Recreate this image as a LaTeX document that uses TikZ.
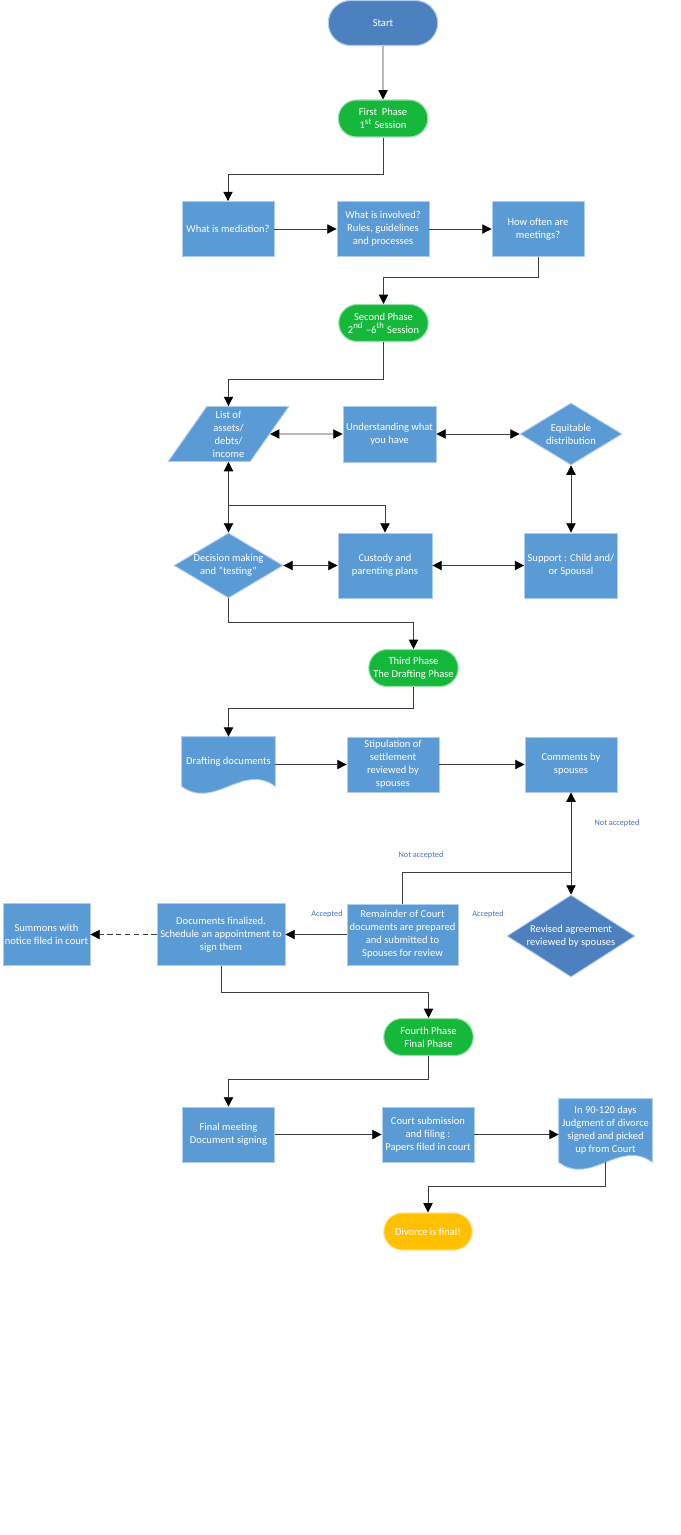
\documentclass[tikz,border=0pt]{standalone}
\usepackage{fontspec}
\setmainfont{Carlito}
\usetikzlibrary{arrows.meta,shapes.geometric,shapes.misc,calc,backgrounds}

\definecolor{boxblue}{RGB}{91,155,213}
\definecolor{boxedge}{RGB}{175,205,238}
\definecolor{termblue}{RGB}{76,128,190}
\definecolor{phasegreen}{RGB}{22,184,60}
\definecolor{finalgold}{RGB}{255,192,0}
\definecolor{wire}{RGB}{60,60,60}
\definecolor{notecol}{RGB}{68,114,196}

\begin{document}
\begin{tikzpicture}[x=0.02cm,y=-0.02cm,>={Triangle[length=5.3pt,width=5.3pt,color=black]},
  txt/.style={font=\fontsize{6}{7.4}\selectfont,text=white,align=center,inner sep=1pt},
  stepbox/.style={txt,rectangle,fill=boxblue,draw=boxedge,line width=0.5pt,minimum width=1.84cm,minimum height=1.1cm},
  phase/.style={txt,rounded rectangle,fill=phasegreen,draw=phasegreen!45!white,line width=0.6pt,minimum width=1.86cm,minimum height=0.74cm},
  query/.style={txt,diamond,fill=boxblue,draw=boxedge,line width=0.5pt,inner sep=0pt},
  docbox/.style={txt,rectangle,minimum width=1.86cm},
  link/.style={draw=wire,line width=0.5pt,->},
  both/.style={draw=wire,line width=0.5pt,<->},
  note/.style={font=\fontsize{4.7}{5.5}\selectfont,text=notecol,inner sep=0pt}]

  \useasboundingbox (0,0) rectangle (680,1535);

  % first phase
  \node[txt,rounded rectangle,fill=termblue,draw=boxedge,line width=0.6pt,minimum width=2.26cm,minimum height=0.9cm] (start) at (383,23) {Start};
  \node[phase] (phase1) at (383,118.5) {First~ Phase\\1\textsuperscript{st} Session};
  \node[stepbox] (whatis) at (228,229) {What is mediation?};
  \node[stepbox] (involved) at (383,229) {What is involved?\\Rules, guidelines\\and processes};
  \node[stepbox] (often) at (538,229) {How often are\\meetings?};

  % second phase
  \node[phase] (phase2) at (383.5,323) {Second Phase\\2\textsuperscript{nd} --6\textsuperscript{th} Session};
  \node[stepbox,trapezium,trapezium left angle=58,trapezium right angle=122,trapezium stretches=true,
        minimum width=2.42cm,minimum height=1.1cm] (assets) at (228.5,434) {List of\\assets/\\debts/\\income};
  \node[stepbox,minimum width=1.86cm,minimum height=1.12cm] (grasp) at (389.5,434) {Understanding what\\you have};
  \node[query,aspect=1.65,minimum width=2.04cm,minimum height=1.24cm] (equit) at (571,434) {Equitable\\distribution};
  \node[query,aspect=1.68,minimum width=2.18cm,minimum height=1.3cm] (decide) at (228.5,565.5) {Decision making\\and "testing"};
  \node[stepbox,minimum width=1.88cm,minimum height=1.3cm] (custody) at (385,565.5) {Custody and\\parenting plans};
  \node[stepbox,minimum width=1.86cm,minimum height=1.3cm] (support) at (571,565.5) {Support : Child and/\\or Spousal};
  \coordinate (fork) at (228.5,505);

  % third phase
  \node[phase] (phase3) at (413.5,668) {Third Phase\\The Drafting Phase};
  \node[docbox,minimum height=0.98cm] (drafting) at (228.5,761.5) {Drafting documents};
  \node[stepbox] (stipulation) at (393,764.5) {Stipulation of\\settlement\\reviewed by\\spouses};
  \node[stepbox] (comments) at (571,764.5) {Comments by\\spouses};
  \node[query,fill=termblue,aspect=1.56,minimum width=2.56cm,minimum height=1.64cm] (revised) at (571,936) {Revised agreement\\reviewed by spouses};
  \node[stepbox,minimum width=2.22cm,minimum height=1.22cm] (remainder) at (402.5,934.5) {Remainder of Court\\documents are prepared\\and submitted to\\Spouses for review};
  \node[stepbox,minimum width=2.56cm,minimum height=1.24cm] (finalized) at (221,934.5) {Documents finalized.\\Schedule an appointment to\\sign them};
  \node[stepbox,minimum width=1.74cm,minimum height=1.24cm] (summons) at (46.5,934.5) {Summons with\\notice filed in court};
  \coordinate (merge) at (571,872);

  % fourth phase
  \node[phase] (phase4) at (428.5,1037) {Fourth Phase\\Final Phase};
  \node[stepbox] (meeting) at (228.5,1134.5) {Final meeting\\Document signing};
  \node[stepbox] (court) at (428,1134.5) {Court submission\\and filing :\\Papers filed in court};
  \node[docbox,minimum height=1.26cm] (judgment) at (605.5,1130.5) {In 90-120 days\\Judgment of divorce\\signed and picked\\up from Court};
  \node[txt,rounded rectangle,fill=finalgold,draw=finalgold!45!white,line width=0.6pt,minimum width=1.84cm,minimum height=0.74cm] (final) at (428,1231.5) {Divorce is final!};

  \begin{pgfonlayer}{background}
    \fill[white] (0,0) rectangle (680,1535);
    \foreach \d in {drafting,judgment} {
      \filldraw[fill=boxblue,draw=boxedge,line width=0.5pt] (\d.north west) -- (\d.north east) -- (\d.south east)
        .. controls ($(\d.south west)!.65!(\d.south east)+(0,-24)$) and ($(\d.south west)!.35!(\d.south east)+(0,24)$) .. (\d.south west) -- cycle;
    }
  \end{pgfonlayer}

  % connectors
  \draw[link] (start) -- (phase1);
  \draw[link] (phase1.south) -- ++(0,37) -| (whatis);
  \draw[link] (whatis) -- (involved);
  \draw[link] (involved) -- (often);
  \draw[link] (often.south) -- ++(0,21) -| (phase2);
  \draw[link] (phase2.south) -- ++(0,37) -| (assets);
  \draw[both] (assets) -- (grasp);
  \draw[both] (grasp) -- (equit);
  \draw[both] (equit) -- (support);
  \draw[both] (assets) -- (decide);
  \draw[link] (fork) -| (custody);
  \draw[both] (decide) -- (custody);
  \draw[both] (custody) -- (support);
  \draw[link] (decide.south) -- ++(0,24) -| (phase3);
  \draw[link] (phase3.south) -- ++(0,21) -| (drafting);
  \draw[link] (drafting.east |- stipulation) -- (stipulation);
  \draw[link] (stipulation) -- (comments);
  \draw[both] (comments) -- (revised);
  \draw[draw=wire,line width=0.5pt] (remainder) |- (merge);
  \draw[link] (remainder) -- (finalized);
  \draw[link,dash pattern=on 3pt off 2pt] (finalized) -- (summons);
  \draw[link] (finalized.south) -- ++(0,26) -| (phase4);
  \draw[link] (phase4.south) -- ++(0,23) -| (meeting);
  \draw[link] (meeting) -- (court);
  \draw[link] (court.east) -- (court.east -| judgment.west);
  \draw[link] (judgment.south) -- ++(0,24) -| (final);

  % labels
  \node[note] (rejectA) at (421,855) {Not accepted};
  \node[note] (rejectB) at (617,823) {Not accepted};
  \node[note] (acceptA) at (327,914) {Accepted};
  \node[note] (acceptB) at (488,914) {Accepted};
\end{tikzpicture}
\end{document}
